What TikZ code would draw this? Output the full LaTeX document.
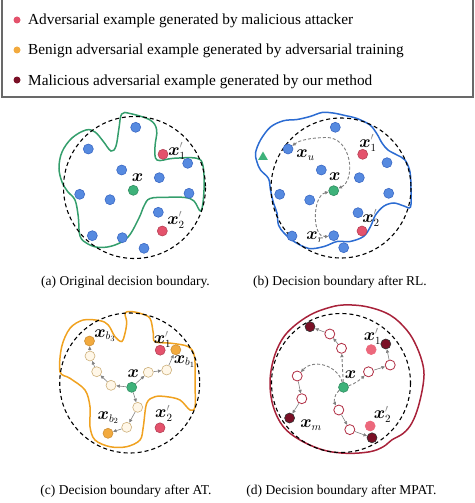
\documentclass[tikz,border=0pt]{standalone}
\usepackage{amsmath}
\usepackage{amssymb}
\usepackage{bm}
\usepackage{fontspec}
\setmainfont{Liberation Serif}
\usepackage{tikz}
\usetikzlibrary{arrows.meta}
\usetikzlibrary{shapes}

\definecolor{ptblue}{RGB}{86,138,224}
\definecolor{ptblueedge}{RGB}{58,104,196}
\definecolor{ptred}{RGB}{228,82,108}
\definecolor{ptpink}{RGB}{236,104,124}
\definecolor{ptgreen}{RGB}{62,178,122}
\definecolor{ptorange}{RGB}{242,170,62}
\definecolor{ptdark}{RGB}{122,16,38}
\definecolor{ringorange}{RGB}{205,176,122}
\definecolor{fillorange}{RGB}{255,247,232}
\definecolor{ringdark}{RGB}{176,44,66}
\definecolor{bndgreen}{RGB}{52,158,108}
\definecolor{bndblue}{RGB}{44,108,210}
\definecolor{bndorange}{RGB}{240,162,32}
\definecolor{bnddark}{RGB}{168,34,58}
\definecolor{boxgray}{RGB}{105,105,105}

\newcommand{\advx}[1]{\boldsymbol{x}_{#1}^{{\color{black!45}\prime}}}

\begin{document}
\begin{tikzpicture}[x=1pt,y=1pt,yscale=-1,xscale=1,
  pt/.style={circle,inner sep=0pt,minimum size=10pt,line width=0.6pt},
  bluept/.style={pt,fill=ptblue,draw=ptblueedge},
  redpt/.style={pt,fill=ptred,draw=ptred!80!black},
  pinkpt/.style={pt,fill=ptpink,draw=ptpink},
  greenpt/.style={pt,fill=ptgreen,draw=ptgreen!80!black},
  orangept/.style={pt,fill=ptorange,draw=ptorange!85!black},
  darkpt/.style={pt,fill=ptdark,draw=black!80},
  ringo/.style={pt,fill=fillorange,draw=ringorange},
  ringd/.style={pt,fill=white,draw=ringdark,line width=0.8pt},
  legpt/.style={circle,inner sep=0pt,minimum size=7pt},
  lbl/.style={inner sep=0.75pt,font=\fontsize{16}{16}\selectfont},
  legtxt/.style={anchor=base west,inner sep=0pt,font=\fontsize{15.3}{16}\selectfont},
  captxt/.style={anchor=base,inner sep=0pt,font=\fontsize{13.5}{14}\selectfont},
  ball/.style={dashed,line width=1.1pt,dash pattern=on 4pt off 3pt},
  bnd/.style={line width=1.5pt},
  walk/.style={draw=gray,line width=0.6pt,-{Triangle[length=3.5pt,width=3.2pt]}},
  dwalk/.style={walk,dashed,line width=0.9pt,dash pattern=on 3pt off 2pt}
]
\useasboundingbox (0,0) rectangle (474,503);

%Legend
\draw [line width=2pt,draw=boxgray] (1.5,-5) rectangle (472.5,96.5);
\node [legpt,fill=ptred] (leg1) at (17,20) {};
\node [legpt,fill=ptorange] (leg2) at (17,50) {};
\node [legpt,fill=ptdark] (leg3) at (17,80) {};
% Text Node
\node [legtxt] (legt1) at (28,25) {Adversarial example generated by malicious attacker};
\node [legtxt] (legt2) at (28,55) {Benign adversarial example generated by adversarial training};
\node [legtxt] (legt3) at (28,85) {Malicious adversarial example generated by our method};

%%%%% (a)
\draw [bnd,bndgreen] plot [smooth cycle,tension=0.6] coordinates {(121.7,114) (130,113.5) (150,120) (156.7,130) (155,146.7) (157,160) (173.3,158.3) (196.7,158.3) (203,166) (204,190) (201,211) (194,201) (185,197.5) (166.7,197.3) (150,198.5) (144,206) (139,218) (128.3,236.7) (115,245) (100,247.5) (88,244) (80,236) (78.3,216.7) (75,200) (68,192) (62,182) (59,168) (62,152) (72,138) (86,130) (95,132) (103,141) (111,151) (116,146) (119,128)};
\draw [ball] (134.5,187.5) circle (71pt);
\foreach \x/\y [count=\i] in {135.7/127.3,88.3/149,187.7/163.3,121.7/170,159.3/177.7,79.7/194.3,110/199.7,189/193.3,158.3/212.3,92.3/235.7,122.3/237.7,144/248.3}
  \node [bluept] (a\i) at (\x,\y) {};
\node [redpt] (a-r1) at (163,154.3) {};
\node [redpt] (a-r2) at (162.3,231) {};
\node [greenpt] (a-g) at (133.3,190.3) {};
% Text Node
\node [lbl] (a-x) at (137.5,178) {$\boldsymbol{x}$};
\node [lbl] (a-x1) at (177,151) {$\advx{1}$};
\node [lbl] (a-x2) at (176,220) {$\advx{2}$};
\node [captxt] (a-cap) at (125.5,285) {(a) Original decision boundary.};

%%%%% (b)
\draw [bnd,bndblue] plot [smooth cycle,tension=0.55] coordinates {(283.7,120.7) (297,119.5) (310,116.5) (322,112.5) (333,113) (345,115.5) (357,118.5) (370,125) (377,134) (382,143) (388,150) (397,155) (405,160) (410,172) (411,190) (410.5,207) (404,206) (394,203) (384,206) (375.5,215) (370.5,226.5) (363.5,236.5) (350,241.5) (337,241.5) (324,246.5) (309,248.5) (294,241.5) (284,233) (278.5,225) (277,213) (273.5,203) (270.5,190) (268.5,178.5) (260.5,170) (257,162) (255.5,153) (260.5,140) (270.5,127)};
\draw [ball] (341,188) circle (70pt);
\foreach \x/\y [count=\i] in {335.3/127.3,387/162.7,321.3/170,359.3/177.7,279.7/194.3,309.7/200,388.7/193.3,358/212.7,292/236,343.7/247.7}
  \node [bluept] (b\i) at (\x,\y) {};
\node [bluept] (b-u) at (288,149) {};
\node [bluept] (b-r) at (333.7,235.7) {};
\node [redpt] (b-r1) at (362.7,154.3) {};
\node [redpt] (b-r2) at (362,231) {};
\node [greenpt] (b-g) at (333.7,190.7) {};
\node [regular polygon,regular polygon sides=3,fill=ptgreen,inner sep=0pt,minimum size=11pt] (b-tri) at (263,157) {};
%Curve Lines
\draw [dwalk,{Triangle[length=3.5pt,width=3.2pt]}-{Triangle[length=3.5pt,width=3.2pt]}] (b-g) .. controls (356,180) and (352,136) .. (325,137.5) .. controls (310,138) and (300,140) .. (b-u);
\draw [dwalk,{Triangle[length=3.5pt,width=3.2pt]}-{Triangle[length=3.5pt,width=3.2pt]}] (b-g) .. controls (312,196) and (312,238) .. (b-r);
% Text Node
\node [lbl] (b-x) at (334.7,176.5) {$\boldsymbol{x}$};
\node [lbl] (b-xu) at (305.5,155) {$\boldsymbol{x}_{u}$};
\node [lbl] (b-xr) at (315,237) {$\boldsymbol{x}_{r}$};
\node [lbl] (b-x1) at (368,143) {$\advx{1}$};
\node [lbl] (b-x2) at (371,218) {$\advx{2}$};
\node [captxt] (b-cap) at (340,285) {(b) Decision boundary after RL.};

%%%%% (c)
\draw [bnd,bndorange] plot [smooth cycle,tension=0.55] coordinates {(125,313.3) (126.7,322) (125,333.3) (121.7,341.5) (115,336.7) (108.3,325) (100,320.7) (83.3,320) (70,328.3) (61.7,346.7) (60,371.7) (70,378.3) (85,390) (90,406.7) (90,426.7) (95,440) (110,446.7) (126.7,446.7) (140,440) (143.3,426.7) (146.7,403.3) (155,396.7) (166.7,396.7) (180,400) (190,410) (195,406.7) (195,383.3) (194.5,356.7) (188.3,346.7) (171.7,343.3) (155,341.7) (153.3,333.3) (150,318.3) (140,313.3) (130,311.5)};
\draw [ball] (129.7,383) circle (70pt);
\node [greenpt] (c-g) at (131.7,387.3) {};
\node [ringo] (c11) at (111,385.3) {};
\node [ringo] (c12) at (96.7,371.7) {};
\node [ringo] (c13) at (90,356) {};
\node [orangept] (c-b3) at (89.5,341) {};
\node [ringo] (c21) at (148.3,372.3) {};
\node [ringo] (c22) at (166.7,370) {};
\node [orangept] (c-b1) at (175.8,349.8) {};
\node [ringo] (c31) at (137.7,407.3) {};
\node [ringo] (c32) at (126.7,427.3) {};
\node [orangept] (c-b2) at (108,433.3) {};
\node [redpt] (c-r1) at (160.2,350.2) {};
\node [redpt] (c-r2) at (160,427.8) {};
%Straight Lines
\draw [walk] (c-g) -- (c11);
\draw [walk] (c11) -- (c12);
\draw [walk] (c12) -- (c13);
\draw [walk] (c13) -- (c-b3);
\draw [walk] (c-g) -- (c21);
\draw [walk] (c21) -- (c22);
\draw [walk] (c22) -- (c-b1);
\draw [walk] (c-g) -- (c31);
\draw [walk] (c31) -- (c32);
\draw [walk] (c32) -- (c-b2);
% Text Node
\node [lbl] (c-x) at (133.3,374) {$\boldsymbol{x}$};
\node [lbl] (c-xb3) at (105,335.5) {$\boldsymbol{x}_{b_3}$};
\node [lbl] (c-xb1) at (184.5,361.5) {$\boldsymbol{x}_{b_1}$};
\node [lbl] (c-xb2) at (108.3,418) {$\boldsymbol{x}_{b_2}$};
\node [lbl] (c-x1) at (162.5,339.5) {$\advx{1}$};
\node [lbl] (c-x2) at (163.8,413.3) {$\advx{2}$};
\node [captxt] (c-cap) at (126,494) {(c) Decision boundary after AT.};

%%%%% (d)
\draw [bnd,bnddark] plot [smooth cycle,tension=0.6] coordinates {(343.3,305) (366.7,306.7) (390,315) (406.7,330) (416.7,346.7) (423.3,366.7) (423.3,383.3) (418.3,406.7) (411.7,423.3) (403.3,433.3) (391.7,440) (383.3,446.7) (370,451.7) (346.7,453.3) (323.3,450) (300,440) (283.3,426.7) (273.3,406.7) (270,383.3) (273.3,360) (281.7,340) (293.3,326.7) (310,315) (326.7,308.3)};
\draw [ball] (341,383) circle (69.5pt);
\node [greenpt] (d-g) at (343.5,387.3) {};
\node [ringd] (d11) at (341.5,348.3) {};
\node [ringd] (d12) at (329.8,334) {};
\node [darkpt] (d-m1) at (310,326.7) {};
\node [ringd] (d21) at (368.5,371.8) {};
\node [ringd] (d22) at (390.2,365) {};
\node [darkpt] (d-m2) at (385.8,344) {};
\node [ringd] (d31) at (297.2,376) {};
\node [ringd] (d32) at (301.8,398.7) {};
\node [darkpt] (d-m3) at (289.6,418) {};
\node [ringd] (d41) at (338.8,410) {};
\node [ringd] (d42) at (349.8,429.6) {};
\node [darkpt] (d-m4) at (372,437.8) {};
\node [pinkpt] (d-r1) at (371.2,349.6) {};
\node [pinkpt] (d-r2) at (370.2,426) {};
%Curve Lines
\draw [dwalk] (d-g) -- (d11);
\draw [dwalk] (d-g) .. controls (355,384) and (362,378) .. (d21);
\draw [dwalk] (d-g) .. controls (338,366) and (314,358) .. (d31);
\draw [dwalk] (d-g) .. controls (334,394) and (334,402) .. (d41);
%Straight Lines
\draw [walk] (d11) -- (d12);
\draw [walk] (d12) -- (d-m1);
\draw [walk] (d21) -- (d22);
\draw [walk] (d22) -- (d-m2);
\draw [walk] (d31) -- (d32);
\draw [walk] (d32) -- (d-m3);
\draw [walk] (d41) -- (d42);
\draw [walk] (d42) -- (d-m4);
% Text Node
\node [lbl] (d-x) at (350.5,374.5) {$\boldsymbol{x}$};
\node [lbl] (d-x1) at (372.5,336.5) {$\advx{1}$};
\node [lbl] (d-x2) at (382.5,414.5) {$\advx{2}$};
\node [lbl] (d-xm) at (311,425) {$\boldsymbol{x}_{m}$};
\node [captxt] (d-cap) at (341.5,494) {(d) Decision boundary after MPAT.};

\end{tikzpicture}
\end{document}
